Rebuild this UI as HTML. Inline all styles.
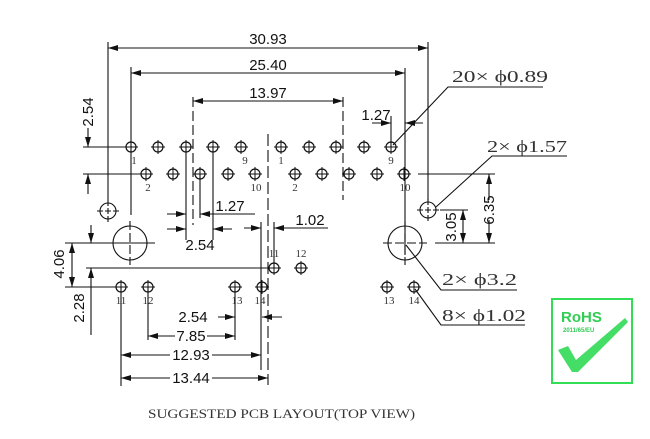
<!DOCTYPE html>
<html><head><meta charset="utf-8"><style>
html,body{margin:0;padding:0;background:#fff;}
svg{display:block;}
.d{font-family:"Liberation Sans",sans-serif;font-size:15px;fill:#111;}
.s{font-family:"Liberation Serif",serif;fill:#333;}
</style></head><body>
<svg width="650" height="439" viewBox="0 0 650 439" xmlns="http://www.w3.org/2000/svg">
<defs>
<marker id="a" viewBox="0 0 10 6" refX="10" refY="3" markerWidth="10" markerHeight="6" orient="auto-start-reverse" markerUnits="userSpaceOnUse"><path d="M0,0 L10,3 L0,6 z" fill="#111"/></marker>
<g id="h"><circle r="5" fill="none" stroke="#111" stroke-width="1.2"/><path d="M-7,0H7M0,-7V7" stroke="#111" stroke-width="1"/></g>
</defs>
<g stroke="#111" stroke-width="1.1" fill="none">
<line x1="108" y1="42" x2="108" y2="200"/><line x1="428" y1="42" x2="428" y2="200"/>
<line x1="108" y1="48" x2="428" y2="48" marker-start="url(#a)" marker-end="url(#a)"/>
<line x1="131" y1="67" x2="131" y2="215"/><line x1="405" y1="68" x2="405" y2="255" />
<line x1="131" y1="73" x2="405" y2="73" marker-start="url(#a)" marker-end="url(#a)"/>
<line x1="193" y1="101" x2="343" y2="101" marker-start="url(#a)" marker-end="url(#a)"/>
<line x1="193" y1="97" x2="193" y2="225" stroke-dasharray="10,4"/>
<line x1="343" y1="97" x2="343" y2="200" stroke-dasharray="10,4"/>
<line x1="268" y1="134" x2="268" y2="385" stroke-dasharray="12,4"/>
<line x1="83" y1="147" x2="131" y2="147"/><line x1="83" y1="174" x2="146" y2="174"/>
<line x1="88" y1="128" x2="88" y2="147" marker-end="url(#a)"/>
<line x1="88" y1="194" x2="88" y2="174" marker-end="url(#a)"/>
<line x1="391" y1="116" x2="391" y2="147"/>
<line x1="372" y1="123" x2="391" y2="123" marker-end="url(#a)"/>
<line x1="423" y1="123" x2="405" y2="123" marker-end="url(#a)"/>
<polyline points="393,145 448,87 543,87"/>
<polyline points="436,207 492,156 567,156"/>
<polyline points="406,245 441,290 517,290"/>
<polyline points="415,289 441,325 525,325"/>
<line x1="418" y1="174" x2="495" y2="174"/><line x1="435" y1="243" x2="495" y2="243"/>
<line x1="440" y1="210" x2="468" y2="210"/>
<line x1="489" y1="200" x2="489" y2="174" marker-end="url(#a)"/>
<line x1="489" y1="220" x2="489" y2="243" marker-end="url(#a)"/>
<line x1="463" y1="210" x2="463" y2="243" marker-start="url(#a)" marker-end="url(#a)"/>
<line x1="186" y1="147" x2="186" y2="240"/><line x1="213" y1="147" x2="213" y2="240"/>
<line x1="200" y1="174" x2="200" y2="218"/>
<line x1="167" y1="214" x2="186" y2="214" marker-end="url(#a)"/>
<line x1="255" y1="214" x2="200" y2="214" marker-end="url(#a)"/>
<line x1="167" y1="229" x2="186" y2="229" marker-end="url(#a)"/>
<line x1="232" y1="229" x2="213" y2="229" marker-end="url(#a)"/>
<line x1="261" y1="222" x2="261" y2="370"/><line x1="274" y1="222" x2="274" y2="268"/>
<line x1="244" y1="228" x2="261" y2="228" marker-end="url(#a)"/>
<line x1="328" y1="228" x2="274" y2="228" marker-end="url(#a)"/>
<line x1="65" y1="243" x2="155" y2="243"/>
<line x1="86" y1="268" x2="270" y2="268"/>
<line x1="65" y1="287" x2="121" y2="287"/>
<line x1="72" y1="243" x2="72" y2="287" marker-start="url(#a)" marker-end="url(#a)"/>
<line x1="91" y1="225" x2="91" y2="243" marker-end="url(#a)"/>
<line x1="91" y1="335" x2="91" y2="268" marker-end="url(#a)"/>
<line x1="121" y1="287" x2="121" y2="386"/><line x1="148" y1="287" x2="148" y2="340"/>
<line x1="235" y1="287" x2="235" y2="340"/>
<line x1="218" y1="317" x2="235" y2="317" marker-end="url(#a)"/>
<line x1="282" y1="317" x2="262" y2="317" marker-end="url(#a)"/>
<line x1="175" y1="336" x2="148" y2="336" marker-end="url(#a)"/>
<line x1="207" y1="336" x2="235" y2="336" marker-end="url(#a)"/>
<line x1="170" y1="355" x2="121" y2="355" marker-end="url(#a)"/>
<line x1="212" y1="355" x2="261" y2="355" marker-end="url(#a)"/>
<line x1="170" y1="378" x2="121" y2="378" marker-end="url(#a)"/>
<line x1="212" y1="378" x2="268" y2="378" marker-end="url(#a)"/>
<circle cx="108" cy="211" r="8"/><path d="M97,211H119M108,200V222" stroke-dasharray="6,2"/>
<circle cx="428" cy="210" r="8"/><path d="M417,210H439M428,199V221" stroke-dasharray="6,2"/>
<circle cx="130" cy="243" r="17"/><path d="M108,243H152M130,221V265" stroke-dasharray="9,3"/>
<circle cx="405" cy="243" r="17"/><path d="M383,243H427M405,221V265" stroke-dasharray="9,3"/>
</g>
<g>
<use href="#h" x="131" y="147"/><use href="#h" x="158" y="147"/><use href="#h" x="186" y="147"/><use href="#h" x="213" y="147"/><use href="#h" x="241" y="147"/>
<use href="#h" x="281" y="147"/><use href="#h" x="309" y="147"/><use href="#h" x="336" y="147"/><use href="#h" x="364" y="147"/><use href="#h" x="391" y="147"/>
<use href="#h" x="146" y="174"/><use href="#h" x="173" y="174"/><use href="#h" x="200" y="174"/><use href="#h" x="228" y="174"/><use href="#h" x="255" y="174"/>
<use href="#h" x="295" y="174"/><use href="#h" x="322" y="174"/><use href="#h" x="349" y="174"/><use href="#h" x="377" y="174"/><use href="#h" x="404" y="174"/>
<use href="#h" x="274" y="268"/><use href="#h" x="301" y="268"/>
<use href="#h" x="121" y="287"/><use href="#h" x="148" y="287"/><use href="#h" x="235" y="287"/><use href="#h" x="262" y="287"/>
<use href="#h" x="387" y="287"/><use href="#h" x="414" y="287"/>
</g>
<g class="s" font-size="11" text-anchor="middle">
<text x="134" y="164">1</text><text x="148" y="191">2</text><text x="245" y="164">9</text><text x="256" y="191">10</text>
<text x="281" y="164">1</text><text x="295" y="191">2</text><text x="391" y="164">9</text><text x="405" y="191">10</text>
<text x="274" y="257">11</text><text x="301" y="257">12</text>
<text x="121" y="304">11</text><text x="148" y="304">12</text><text x="237" y="304">13</text><text x="260" y="304">14</text>
<text x="389" y="304">13</text><text x="414" y="304">14</text>
</g>
<g class="d" text-anchor="middle">
<text x="268" y="44">30.93</text>
<text x="268" y="70">25.40</text>
<text x="268" y="98">13.97</text>
<text x="376" y="120">1.27</text>
<text x="230" y="211">1.27</text>
<text x="200" y="250">2.54</text>
<text x="310" y="225">1.02</text>
<text x="193" y="322">2.54</text>
<text x="191" y="341">7.85</text>
<text x="191" y="360">12.93</text>
<text x="191" y="383">13.44</text>
<text transform="translate(93,112) rotate(-90)">2.54</text>
<text transform="translate(64,264) rotate(-90)">4.06</text>
<text transform="translate(84,308) rotate(-90)">2.28</text>
<text transform="translate(494,210) rotate(-90)">6.35</text>
<text transform="translate(456,227) rotate(-90)">3.05</text>
</g>
<g class="s" font-size="17">
<text x="452" y="82" textLength="96" lengthAdjust="spacingAndGlyphs">20× ϕ0.89</text>
<text x="487" y="152" textLength="80" lengthAdjust="spacingAndGlyphs">2× ϕ1.57</text>
<text x="442" y="285" textLength="75" lengthAdjust="spacingAndGlyphs">2× ϕ3.2</text>
<text x="442" y="321" textLength="84" lengthAdjust="spacingAndGlyphs">8× ϕ1.02</text>
<text x="148" y="418" font-size="13" textLength="267" lengthAdjust="spacingAndGlyphs">SUGGESTED PCB LAYOUT(TOP VIEW)</text>
</g>
<rect x="552" y="299" width="80" height="84" fill="#fff" stroke="#33dd55" stroke-width="2"/>
<text x="561" y="322" font-family="Liberation Sans,sans-serif" font-weight="bold" font-size="15" fill="#33cc55">RoHS</text>
<text x="563" y="332" font-family="Liberation Sans,sans-serif" font-weight="bold" font-size="6" fill="#33cc55">2011/65/EU</text>
<path d="M558,350 L568,346 L576,360 L625,318 L628,322 L578,372 L572,372 z" fill="#44dd66"/>
</svg>
</body></html>
